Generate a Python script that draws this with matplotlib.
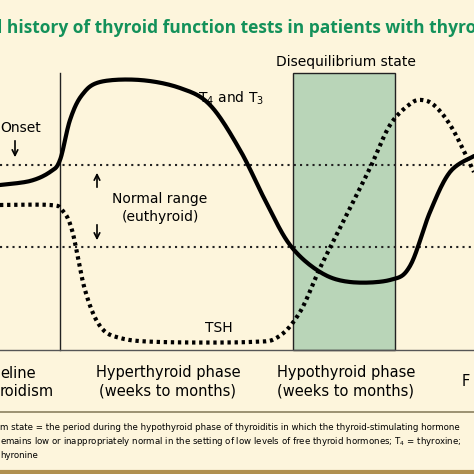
import numpy as np
import matplotlib.pyplot as plt
from matplotlib.patches import Rectangle

# curves in image pixel coordinates (x right, y down)
t4_x = [0, 30, 50, 60, 70, 82, 100, 140, 180, 210, 240, 265, 290, 320, 350, 390, 410, 430, 450, 474]
t4_y = [185, 181, 172, 160, 120, 95, 82, 80, 88, 105, 150, 200, 245, 272, 282, 280, 266, 212, 172, 156]
tsh_x = [0, 50, 62, 72, 85, 100, 120, 160, 250, 278, 300, 320, 345, 370, 390, 410, 422, 435, 452, 474]
tsh_y = [205, 205, 210, 230, 290, 326, 338, 342, 342, 337, 312, 268, 218, 168, 125, 104, 100, 106, 128, 172]
normal_hi, normal_lo = 165, 247
phase_labels = ["eline\nroidism", "Hyperthyroid phase\n(weeks to months)",
                "Hypothyroid phase\n(weeks to months)", "F"]
phase_x = [0, 168, 346, 466]
footnote = ["m state = the period during the hypothyroid phase of thyroiditis in which the thyroid-stimulating hormone",
            "emains low or inappropriately normal in the setting of low levels of free thyroid hormones; T$_4$ = thyroxine;",
            "hyronine"]


def smooth(xs, ys, n=20):
    # catmull-rom through the points, only for drawing
    p = np.column_stack([xs, ys]).astype(float)
    p = np.vstack([p[0], p, p[-1]])
    out = []
    for i in range(1, len(p) - 2):
        p0, p1, p2, p3 = p[i - 1], p[i], p[i + 1], p[i + 2]
        for t in np.linspace(0, 1, n, endpoint=False):
            out.append(0.5 * (2 * p1 + (-p0 + p2) * t + (2 * p0 - 5 * p1 + 4 * p2 - p3) * t ** 2
                              + (-p0 + 3 * p1 - 3 * p2 + p3) * t ** 3))
    out.append(p[-2])
    out = np.array(out)
    return out[:, 0], out[:, 1]


bg = '#fdf5dc'
fig = plt.figure(figsize=(4.74, 4.74), dpi=100, facecolor=bg)
ax = fig.add_axes([0, 0, 1, 1])
ax.set_xlim(0, 474)
ax.set_ylim(474, 0)
ax.axis('off')

ax.text(237, 28, "l history of thyroid function tests in patients with thyro", color='#13915a',
        fontsize=12.5, fontweight='bold', ha='center', va='center', family='Open Sans')

ax.add_patch(Rectangle((293, 73), 102, 277, facecolor='#b9d5b8', edgecolor='#222', lw=1))
ax.plot([60, 60], [73, 350], color='#222', lw=1)
ax.plot([0, 474], [350, 350], color='#555', lw=1)
ax.plot([0, 474], [412, 412], color='#8a8060', lw=1.2)
ax.plot([0, 474], [472, 472], color='#b09050', lw=3)
for yy in (normal_hi, normal_lo):
    ax.plot([0, 474], [yy, yy], color='#222', lw=1.5, ls=(0, (1, 2)))

ax.plot(*smooth(t4_x, t4_y), color='black', lw=3, solid_capstyle='round')
ax.plot(*smooth(tsh_x, tsh_y), color='black', lw=3, ls=(0, (0.8, 0.9)))

ax.text(0, 128, "Onset", fontsize=10, va='center', ha='left')
ax.annotate('', xy=(15, 160), xytext=(15, 138), arrowprops=dict(arrowstyle='->', lw=1.2))
ax.annotate('', xy=(97, 170), xytext=(97, 190), arrowprops=dict(arrowstyle='->', lw=1.2))
ax.annotate('', xy=(97, 243), xytext=(97, 222), arrowprops=dict(arrowstyle='->', lw=1.2))
ax.text(160, 208, "Normal range\n(euthyroid)", fontsize=10, ha='center', va='center', linespacing=1.3)
ax.text(198, 98, "T$_4$ and T$_3$", fontsize=10, va='center')
ax.text(205, 328, "TSH", fontsize=10, va='center')
ax.text(346, 62, "Disequilibrium state", fontsize=10, ha='center', va='center')

for lbl, x in zip(phase_labels, phase_x):
    ha = 'left' if x < 10 else 'center'
    ax.text(x, 382, lbl, fontsize=10.5, ha=ha, va='center', linespacing=1.25)
for i, line in enumerate(footnote):
    ax.text(0, 428 + i * 14, line, fontsize=6.2, va='center', family='Liberation Sans Narrow')

fig.savefig('out.png', dpi=100, facecolor=bg)
